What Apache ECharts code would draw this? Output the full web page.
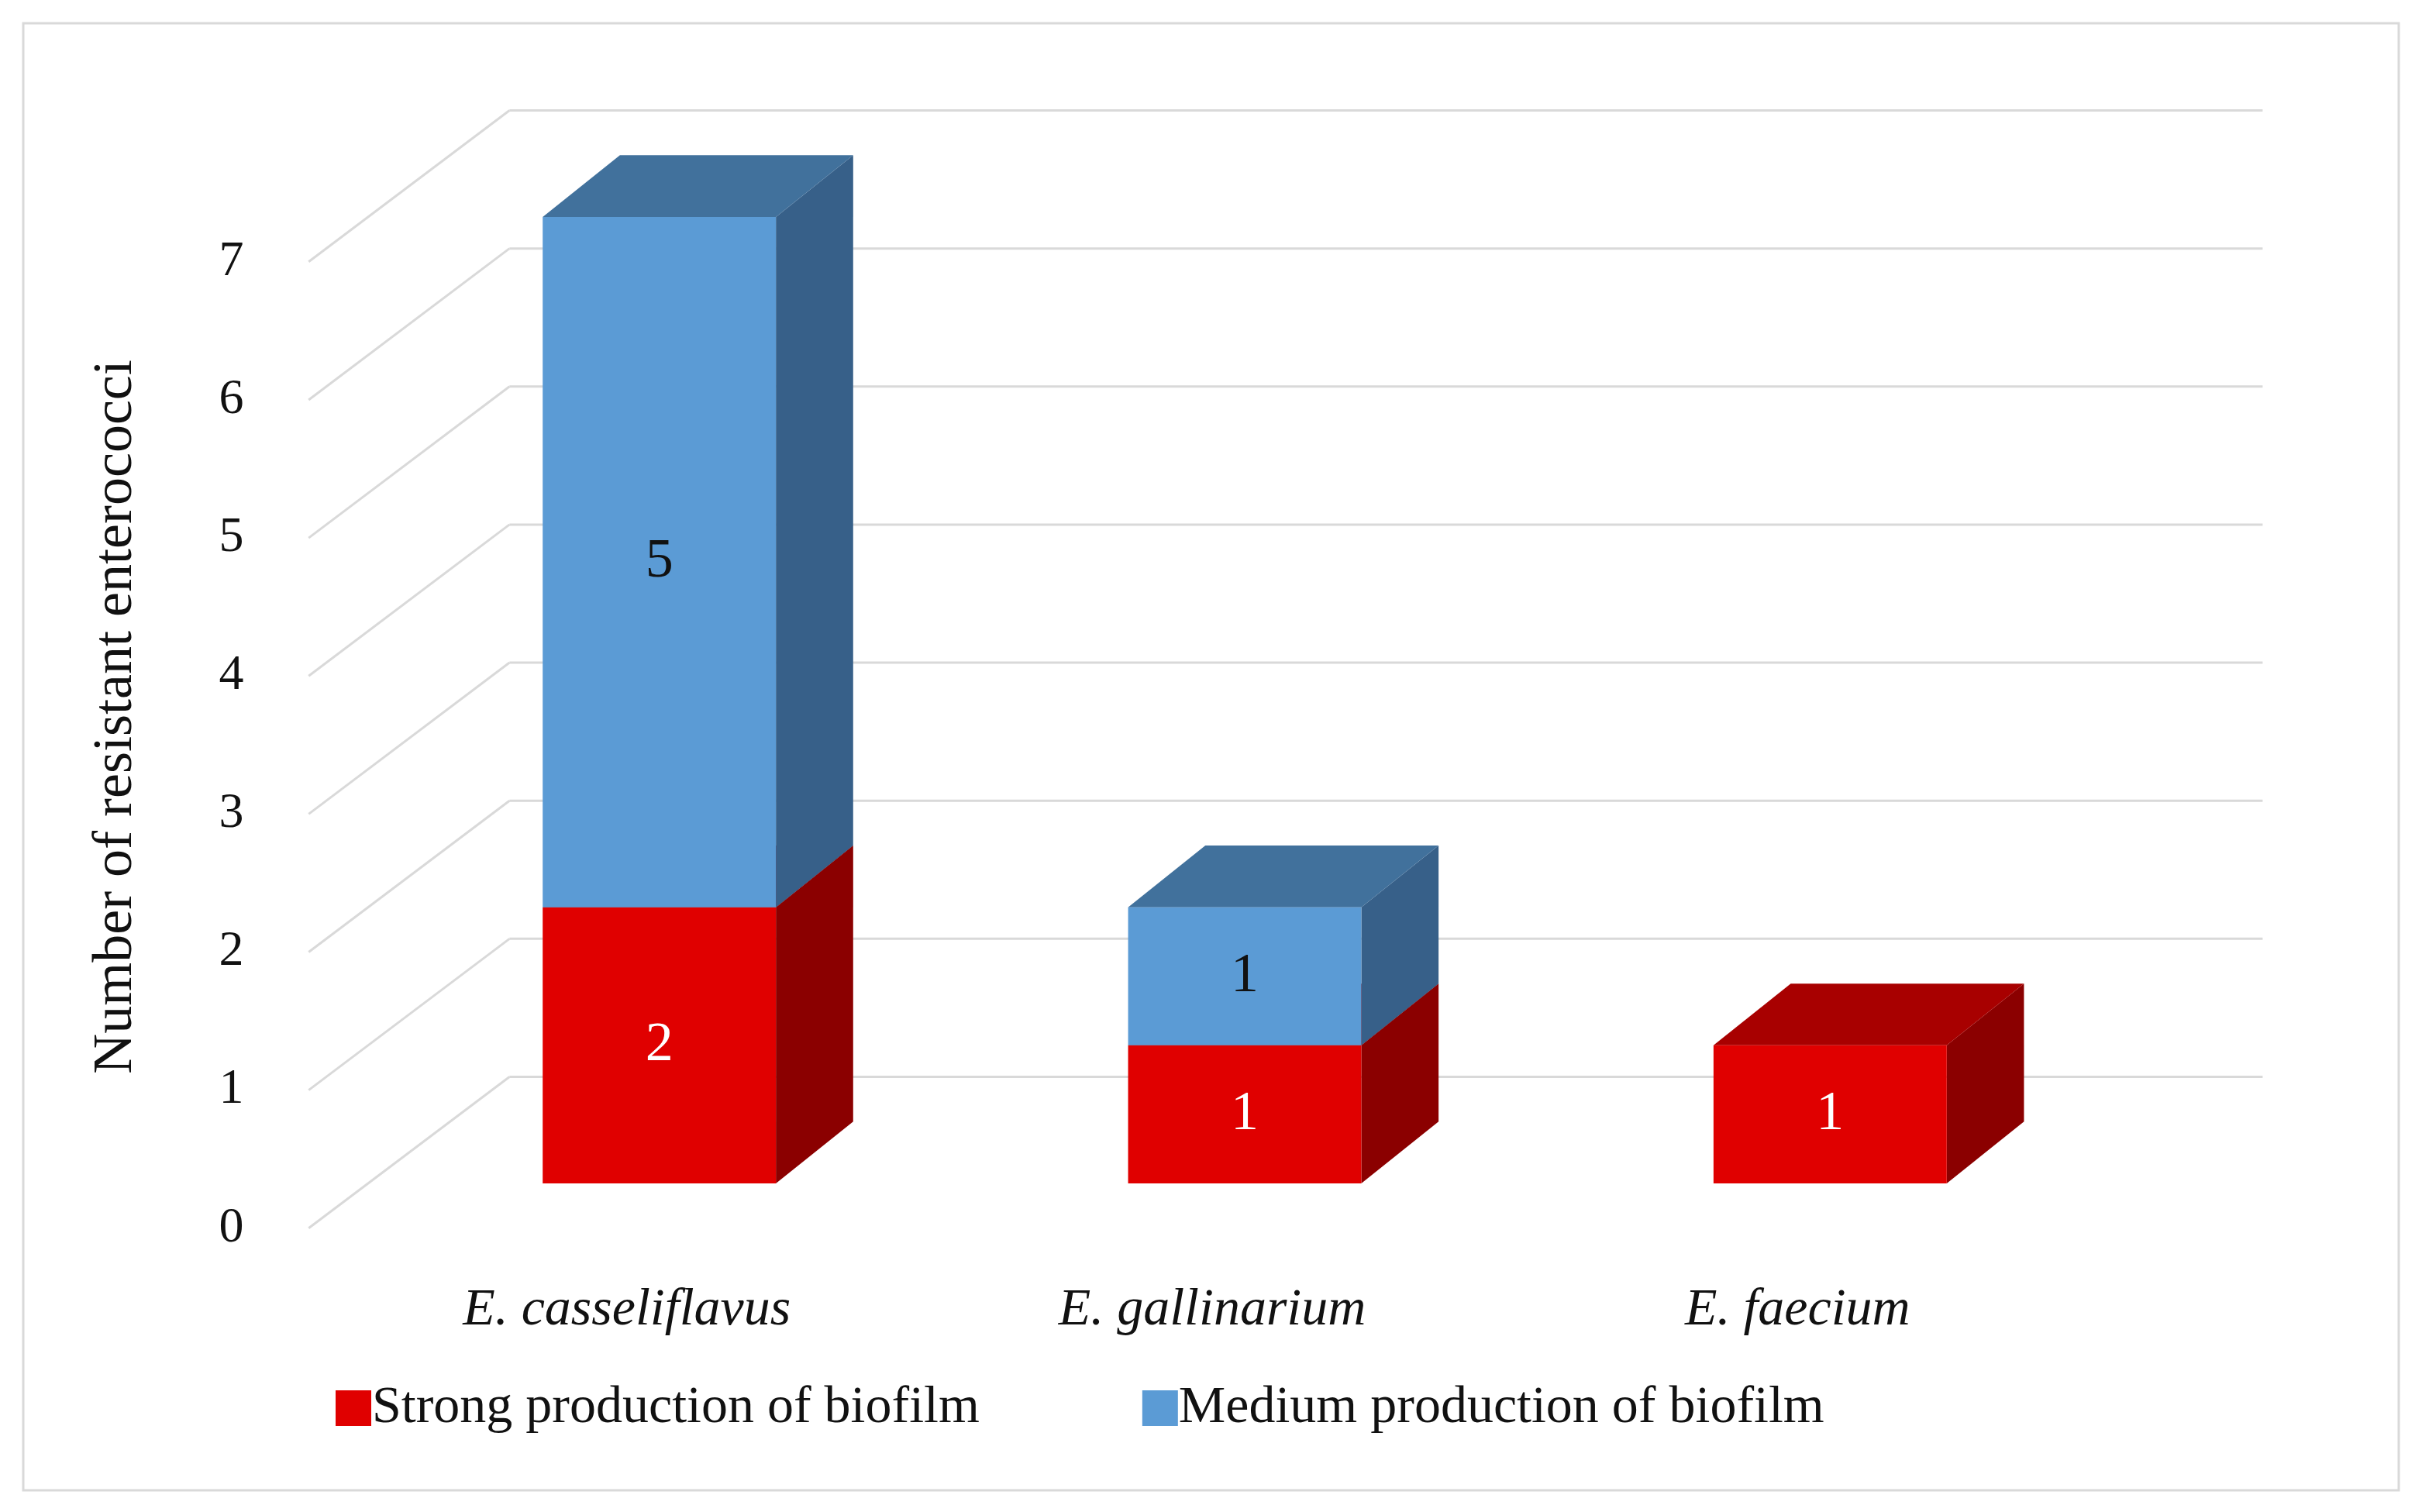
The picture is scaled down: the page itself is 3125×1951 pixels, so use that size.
<!DOCTYPE html>
<html>
<head>
<meta charset="utf-8">
<script src="https://cdn.jsdelivr.net/npm/echarts@6/dist/echarts.min.js"></script>
<style>html,body{margin:0;padding:0;background:#fff}#main{width:3125px;height:1951px}</style>
</head>
<body>
<div id="main"></div>
<script>
const species = ['E. casseliflavus', 'E. gallinarium', 'E. faecium']
const strongValues = [2, 1, 1]
const mediumValues = [5, 1, 0]
const yTicks = [0, 1, 2, 3, 4, 5, 6, 7]

const S = 1.993
const DX = 50 * S, DY = -40 * S
const FONT = '"Liberation Serif", "DejaVu Serif", serif'

var myChart = echarts.init(document.getElementById('main'))

function barItem(colors, textColor, baseArr) {
    return function (params, api) {
        var i = params.dataIndex
        var v = api.value(1)
        if (!v) return
        var base = baseArr ? baseArr[i] : 0
        var bw = api.size([1, 0])[0] * 151 / 379
        var pb = api.coord([i, base])
        var pt = api.coord([i, base + v])
        var x0 = pb[0] - bw / 2, x1 = pb[0] + bw / 2
        var yb = pb[1], yt = pt[1]
        return {
            type: 'group',
            children: [
                {type: 'polygon', shape: {points: [[x1, yb], [x1 + DX, yb + DY], [x1 + DX, yt + DY], [x1, yt]]}, style: {fill: colors[1]}},
                {type: 'polygon', shape: {points: [[x0, yt], [x1, yt], [x1 + DX, yt + DY], [x0 + DX, yt + DY]]}, style: {fill: colors[2]}},
                {type: 'rect', shape: {x: x0, y: yt, width: bw, height: yb - yt}, style: {fill: colors[0]}},
                {type: 'text', x: pb[0], y: (yb + yt) / 2, style: {text: String(v), fill: textColor, font: '72px ' + FONT, align: 'center', verticalAlign: 'middle'}}
            ]
        }
    }
}

function gridItem(params, api) {
    var v = api.value(0)
    var p = api.coord([0, v])
    var cx = p[0], yf = p[1]
    var lineStyle = {stroke: '#d9d9d9', lineWidth: 3}
    return {
        type: 'group',
        children: [
            {type: 'line', shape: {x1: cx - 97 * S, y1: yf - 69 * S, x2: cx + 1038 * S, y2: yf - 69 * S}, style: lineStyle},
            {type: 'line', shape: {x1: cx - 227 * S, y1: yf + 29 * S, x2: cx - 97 * S, y2: yf - 69 * S}, style: lineStyle},
            {type: 'text', x: cx - 277 * S, y: yf + 29 * S, style: {text: String(v), fill: '#111', font: '64px ' + FONT, align: 'center', verticalAlign: 'middle'}}
        ]
    }
}

var option = {
    animation: false,
    backgroundColor: '#fff',
    grid: {left: 473, width: 2266, top: 280, bottom: 424},
    xAxis: {
        type: 'category',
        data: species,
        axisLine: {show: false},
        axisTick: {show: false},
        axisLabel: {
            margin: 130,
            fontFamily: FONT, fontStyle: 'italic', fontSize: 68, color: '#111',
            padding: [0, 84, 0, 0]
        }
    },
    yAxis: {
        type: 'value', min: 0, max: 7, interval: 1,
        axisLabel: {show: false}, splitLine: {show: false}, axisLine: {show: false}, axisTick: {show: false}
    },
    legend: {
        data: ['Strong production of biofilm', 'Medium production of biofilm'],
        left: 428, top: 1778,
        itemWidth: 46, itemHeight: 46, itemGap: 210,
        icon: 'rect',
        textStyle: {fontFamily: FONT, fontSize: 68, color: '#111', padding: [0, 0, 0, -4]}
    },
    graphic: [
        {type: 'rect', shape: {x: 30, y: 30, width: 3065, height: 1893}, style: {fill: 'none', stroke: '#d9d9d9', lineWidth: 3}, z: -10},
        {type: 'text', x: 150, y: 925, rotation: Math.PI / 2, style: {text: 'Number of resistant enterococci', font: '72px ' + FONT, fill: '#111', align: 'center', verticalAlign: 'middle'}}
    ],
    series: [
        {
            type: 'custom', name: 'grid', silent: true, z: 1,
            renderItem: gridItem,
            data: yTicks.map(function (v) { return [v] }),
            encode: {y: 0}
        },
        {
            type: 'custom', name: 'Strong production of biofilm', z: 2,
            itemStyle: {color: '#E00000'},
            renderItem: barItem(['#E00000', '#8B0000', '#A80000'], '#fff', null),
            data: strongValues.map(function (v, i) { return [i, v] })
        },
        {
            type: 'custom', name: 'Medium production of biofilm', z: 3,
            itemStyle: {color: '#5B9BD5'},
            renderItem: barItem(['#5B9BD5', '#376089', '#41719C'], '#111', strongValues),
            data: mediumValues.map(function (v, i) { return [i, v] })
        }
    ]
}

option && myChart.setOption(option)
</script>
</body>
</html>
